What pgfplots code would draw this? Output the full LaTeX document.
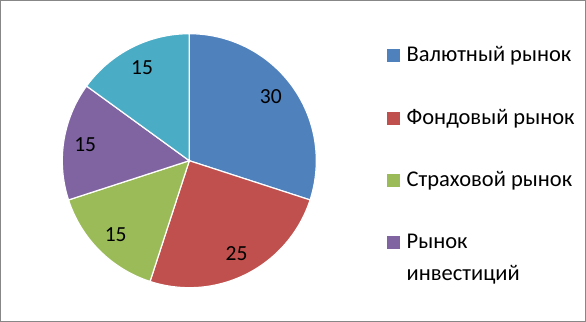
\documentclass[border=0pt]{standalone}
\usepackage{pgfplots}
\pgfplotsset{compat=1.18}
\usepackage{fontspec}
\setmainfont{Carlito}
\definecolor{cA}{HTML}{4F81BD}
\definecolor{cB}{HTML}{C0504D}
\definecolor{cC}{HTML}{9BBB59}
\definecolor{cD}{HTML}{8064A2}
\definecolor{cE}{HTML}{4BACC6}
\definecolor{frame}{HTML}{878787}
% values of the five slices
\def\vA{30}\def\vB{25}\def\vC{15}\def\vD{15}\def\vE{15}
\pgfmathsetmacro\aO{90}
\pgfmathsetmacro\aA{\aO-3.6*\vA}
\pgfmathsetmacro\aB{\aA-3.6*\vB}
\pgfmathsetmacro\aC{\aB-3.6*\vC}
\pgfmathsetmacro\aD{\aC-3.6*\vD}
\pgfmathsetmacro\aE{\aD-3.6*\vE}
\pgfmathsetmacro\mA{(\aO+\aA)/2}
\pgfmathsetmacro\mB{(\aA+\aB)/2}
\pgfmathsetmacro\mC{(\aB+\aC)/2}
\pgfmathsetmacro\mD{(\aC+\aD)/2}
\pgfmathsetmacro\mE{(\aD+\aE)/2}
\newcommand\fs{\fontsize{22.5bp}{32bp}\selectfont}
\newcommand\fn{\fontsize{21.5bp}{30bp}\selectfont}
\begin{document}
\begin{tikzpicture}
\useasboundingbox (0,0) rectangle (586bp,322bp);
\fill[white] (0,0) rectangle (586bp,322bp);
\begin{axis}[
  x=127bp, y=127bp,
  xmin=-1, xmax=1, ymin=-1, ymax=1,
  hide axis, clip=false,
  anchor=center, at={(189.3bp,161.3bp)},
]
\addplot[fill=cA, draw=white, line width=1.2bp, domain=\aA:\aO, samples=80, variable=\t] ({cos(t)},{sin(t)}) -- (axis cs:0,0) -- cycle;
\addplot[fill=cB, draw=white, line width=1.2bp, domain=\aB:\aA, samples=70, variable=\t] ({cos(t)},{sin(t)}) -- (axis cs:0,0) -- cycle;
\addplot[fill=cC, draw=white, line width=1.2bp, domain=\aC:\aB, samples=50, variable=\t] ({cos(t)},{sin(t)}) -- (axis cs:0,0) -- cycle;
\addplot[fill=cD, draw=white, line width=1.2bp, domain=\aD:\aC, samples=50, variable=\t] ({cos(t)},{sin(t)}) -- (axis cs:0,0) -- cycle;
\addplot[fill=cE, draw=white, line width=1.2bp, domain=\aE:\aD, samples=50, variable=\t] ({cos(t)},{sin(t)}) -- (axis cs:0,0) -- cycle;
\addplot[draw=none, mark=none, nodes near coords, point meta=explicit symbolic,
  every node near coord/.append style={font=\fn, text=black, anchor=center, inner sep=0pt}]
  coordinates {
  ({0.815*cos(\mA+2)},{0.815*sin(\mA+2)}) [\vA]
  ({0.82*cos(\mB)},{0.82*sin(\mB)}) [\vB]
  ({0.82*cos(\mC)},{0.82*sin(\mC)}) [\vC]
  ({0.83*cos(\mD)},{0.83*sin(\mD)}) [\vD]
  ({0.82*cos(\mE)},{0.82*sin(\mE)}) [\vE]
  };
\end{axis}
% legend
\fill[cA] (387bp,259.5bp) rectangle (400bp,272.5bp);
\fill[cB] (387bp,197.2bp) rectangle (400bp,210.2bp);
\fill[cC] (387bp,134.8bp) rectangle (400bp,147.8bp);
\fill[cD] (387bp,72.5bp) rectangle (400bp,85.5bp);
\node[anchor=base west, inner sep=0pt, font=\fs] at (406.5bp,260bp) {Валютный рынок};
\node[anchor=base west, inner sep=0pt, font=\fs] at (406.5bp,197.7bp) {Фондовый рынок};
\node[anchor=base west, inner sep=0pt, font=\fs] at (406.5bp,135.3bp) {Страховой рынок};
\node[anchor=base west, inner sep=0pt, font=\fs] at (406.5bp,73bp) {Рынок};
\node[anchor=base west, inner sep=0pt, font=\fs] at (406.5bp,41bp) {инвестиций};
\draw[frame, line width=1.2bp] (0.6bp,0.6bp) rectangle (585.4bp,321.4bp);
\end{tikzpicture}
\end{document}
